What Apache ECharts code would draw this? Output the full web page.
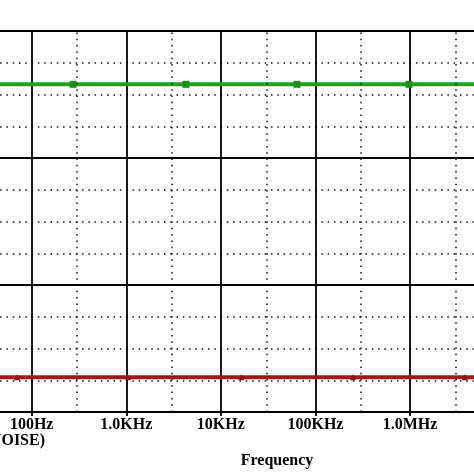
<!DOCTYPE html>
<html>
<head>
<meta charset="utf-8">
<script src="https://cdn.jsdelivr.net/npm/echarts@6/dist/echarts.min.js"></script>
<style>
  html, body { margin: 0; padding: 0; background: #fff; }
  #chart { width: 474px; height: 474px; }
</style>
</head>
<body>
<div id="chart"></div>
<script>
// x axis: frequency in Hz, drawn on a log10 value axis
var tickLabels = ['10Hz', '100Hz', '1.0KHz', '10KHz', '100KHz', '1.0MHz', '10MHz'];
var minorFreqs = [30, 300, 3000, 30000, 300000, 3000000];

// trace points (Hz); markers only where PSpice put them
var greenFreqs = [10, 274, 4276, 63800, 975000, 10000000];
var greenValues = [25.8, 25.8, 25.8, 25.8, 25.8, 25.8];
var greenMarked = [false, true, true, true, true, false];

var redFreqs = [10, 70, 1042, 16500, 249000, 3800000, 10000000];
var redValues = [2.73, 2.73, 2.73, 2.73, 2.73, 2.73, 2.73];
var redMarked = [false, true, true, true, true, true, false];

var legendText = 'V(ONOISE)';
var FONT = '"Liberation Serif", "Times New Roman", serif';

function buildData(freqs, values, marked) {
  var out = [];
  for (var i = 0; i < freqs.length; i++) {
    out.push({
      value: [Math.log10(freqs[i]), values[i]],
      symbol: marked[i] ? undefined : 'none'
    });
  }
  return out;
}

var chart = echarts.init(document.getElementById('chart'));

var option = {
  animation: false,
  backgroundColor: '#fff',
  grid: {
    left: -62.9,
    right: -30.6,
    top: 31,
    bottom: 62,
    containLabel: false,
    outerBoundsMode: 'none'
  },
  xAxis: {
    type: 'value',
    min: 1,
    max: 7,
    interval: 1,
    axisLine: { show: true, onZero: false, lineStyle: { color: '#000', width: 1.8 } },
    axisTick: { show: true, length: 4, lineStyle: { color: '#000', width: 1.8 } },
    axisLabel: {
      margin: 5,
      color: '#000',
      fontFamily: FONT,
      fontWeight: 'bold',
      fontSize: 16,
      formatter: function(v) {
        return tickLabels[Math.round(v) - 1] || '';
      }
    },
    splitLine: { show: true, lineStyle: { color: '#000', width: 1.8 } }
  },
  yAxis: {
    type: 'value',
    min: 0,
    max: 30,
    interval: 10,
    axisLine: { show: false },
    axisTick: { show: false },
    axisLabel: { show: false },
    splitLine: { show: true, lineStyle: { color: '#000', width: 1.8 } },
    minorTick: { show: false, splitNumber: 4 },
    minorSplitLine: { show: true, lineStyle: { color: '#111', width: 1.5, type: [1.5, 4.8] } }
  },
  graphic: [
    {
      type: 'text',
      x: 45,
      y: 441,
      style: {
        text: legendText,
        fill: '#000',
        font: 'bold 16px ' + FONT,
        textAlign: 'right',
        textVerticalAlign: 'middle'
      }
    },
    {
      type: 'text',
      x: 277,
      y: 461,
      style: {
        text: 'Frequency',
        fill: '#000',
        font: 'bold 16px ' + FONT,
        textAlign: 'center',
        textVerticalAlign: 'middle'
      }
    }
  ],
  series: [
    {
      // dotted vertical grid lines at 3 x 10^n
      type: 'line',
      data: [],
      z: 1,
      silent: true,
      markLine: {
        silent: true,
        symbol: ['none', 'none'],
        label: { show: false },
        lineStyle: { color: '#111', width: 1.5, type: [1.5, 4.8] },
        data: minorFreqs.map(function(f) { return { xAxis: Math.log10(f) }; })
      }
    },
    {
      name: 'green',
      type: 'line',
      z: 3,
      data: buildData(greenFreqs, greenValues, greenMarked),
      symbol: 'rect',
      symbolSize: 7,
      showAllSymbol: true,
      lineStyle: { color: '#21a021', width: 4 },
      itemStyle: { color: '#1a8f1a', borderWidth: 0 }
    },
    {
      name: 'red',
      type: 'line',
      z: 3,
      data: buildData(redFreqs, redValues, redMarked),
      symbol: 'triangle',
      symbolSize: 6,
      showAllSymbol: true,
      lineStyle: { color: '#a31616', width: 4 },
      itemStyle: { color: '#8a1010', borderWidth: 0 }
    }
  ]
};

chart.setOption(option);
</script>
</body>
</html>
